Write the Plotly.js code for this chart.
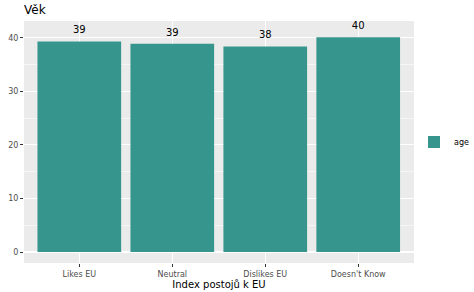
<!DOCTYPE html>
<html>
<head>
<meta charset="utf-8">
<script src="https://cdn.plot.ly/plotly-3.0.1.min.js"></script>
<style>html,body{margin:0;padding:0;background:#fff;}#chart{width:474px;height:292px;}</style>
</head>
<body>
<div id="chart"></div>
<script>
const categories = ["Likes EU", "Neutral", "Dislikes EU", "Doesn't Know"];
const ageValues = [39.3, 38.9, 38.4, 40.1];
const ageLabels = ["39", "39", "38", "40"];
const seriesName = "age";
const yTicks = [0, 10, 20, 30, 40];

const barColor = "#36958c";
const fontFam = "DejaVu Sans, sans-serif";

const traces = [
  {
    type: "bar",
    x: categories,
    y: ageValues,
    name: seriesName,
    width: 0.9,
    marker: {color: barColor, line: {width: 0}},
    showlegend: true,
    hoverinfo: "x+y"
  },
  {
    type: "scatter",
    mode: "text",
    x: categories,
    y: ageValues.map(v => v + 2.0),
    text: ageLabels,
    textposition: "middle center",
    textfont: {family: fontFam, size: 10, color: "#000"},
    showlegend: false,
    hoverinfo: "skip"
  }
];

const layout = {
  width: 474, height: 292,
  margin: {l: 24, r: 60, t: 21, b: 29, pad: 0, autoexpand: false},
  paper_bgcolor: "#ffffff",
  plot_bgcolor: "#ebebeb",
  font: {family: fontFam, color: "#4d4d4d", size: 8},
  title: {text: "Věk", x: 24 / 474, xref: "container", xanchor: "left",
          y: 1 - 10 / 292, yref: "container", yanchor: "middle",
          font: {family: fontFam, size: 12, color: "#000"}},
  xaxis: {
    type: "category",
    range: [-0.595, 3.6],
    showgrid: true, gridcolor: "#ffffff", gridwidth: 1.07,
    zeroline: false, showline: false,
    ticks: "outside", ticklen: 3, tickwidth: 1, tickcolor: "#333333",
    tickfont: {family: fontFam, size: 8, color: "#4d4d4d"},
    title: {text: "Index postojů k EU", font: {family: fontFam, size: 10, color: "#000"}, standoff: 1},
    fixedrange: true
  },
  yaxis: {
    range: [-2.05, 43.15],
    tickvals: yTicks,
    ticktext: yTicks.map(String),
    showgrid: true, gridcolor: "#ffffff", gridwidth: 1.07,
    minor: {dtick: 5, tick0: 5, showgrid: true, gridcolor: "#ffffff", gridwidth: 0.53, ticks: ""},
    zeroline: false, showline: false,
    ticks: "outside", ticklen: 3, tickwidth: 1, tickcolor: "#333333",
    tickfont: {family: fontFam, size: 8, color: "#4d4d4d"},
    fixedrange: true
  },
  showlegend: true,
  legend: {
    x: 1.0, xanchor: "left", y: 0.5, yanchor: "middle",
    font: {family: fontFam, size: 8, color: "#000"},
    itemwidth: 30, bgcolor: "rgba(0,0,0,0)"
  },
  bargap: 0.1
};

Plotly.newPlot("chart", traces, layout, {displayModeBar: false, staticPlot: true});
</script>
</body>
</html>
